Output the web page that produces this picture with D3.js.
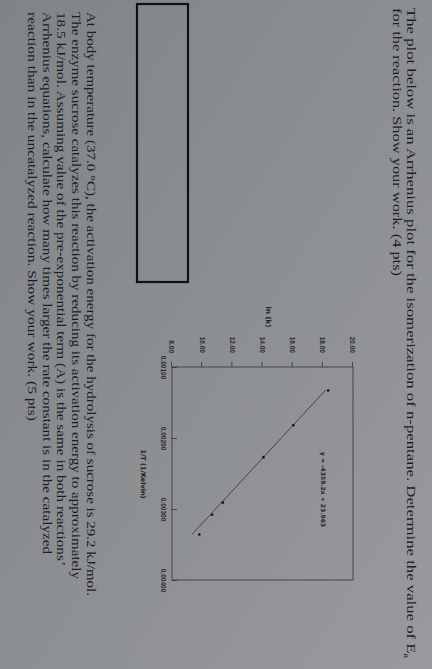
<!DOCTYPE html>
<html lang="en">
<head>
<meta charset="UTF-8">
<title>Arrhenius plot</title>
<script src="https://cdnjs.cloudflare.com/ajax/libs/d3/7.8.5/d3.min.js"></script>
<style>
    body {margin: 0; background: #8b8d90;}
    svg {display: block;}
</style>
</head>
<body>
<svg id="page" width="432" height="669"></svg>
<script>
    // values
    const invT = [0.00133, 0.00182, 0.00227, 0.00291, 0.00308, 0.00336];
    const lnK = [18.35, 16.04, 14.06, 11.37, 10.66, 9.81];
    const yTicks = [8, 10, 12, 14, 16, 18, 20];
    const xTicks = [0.001, 0.002, 0.003, 0.004];
    const slope = -4359.2, intercept = 23.963;

    const topText = [
        "The plot below is an Arrhenius plot for the isomerization of n-pentane. Determine the value of E",
        "for the reaction. Show your work. (4 pts)"
    ];
    const topLen = [650, 268];
    const bottomText = [
        "At body temperature (37.0 °C), the activation energy for the hydrolysis of sucrose is 29.2 kJ/mol.",
        "The enzyme sucrose catalyzes this reaction by reducing its activation energy to approximately",
        "18.5 kJ/mol. Assuming value of the pre-exponential term (A) is the same in both reactions’",
        "Arrhenius equations, calculate how many times larger the rate constant is in the catalyzed",
        "reaction than in the uncatalyzed reaction. Show your work. (5 pts)"
    ];
    const bottomLen = [584, 567, 554, 542, 409];

    const svg = d3.select("#page");
    const grad = svg.append("defs").append("linearGradient").attr("id", "bg")
        .attr("x1", 0).attr("y1", 0).attr("x2", 1).attr("y2", 1);
    grad.append("stop").attr("offset", 0).attr("stop-color", "#818487");
    grad.append("stop").attr("offset", 1).attr("stop-color", "#989a9d");
    svg.append("rect").attr("width", 432).attr("height", 669).attr("fill", "url(#bg)");

    // the photo is taken sideways: draw the page upright (669 x 432) and turn it
    const page = svg.append("g").attr("transform", "translate(432,0) rotate(90)");

    const serif = "'Liberation Serif', 'DejaVu Serif', serif";
    const t1 = page.append("g").attr("font-family", serif).attr("font-size", 13.5).attr("fill", "#1c1d20");
    topText.forEach((s, i) => {
        const t = t1.append("text").attr("x", 8).attr("y", 25 + i * 14)
            .attr("textLength", topLen[i]).attr("lengthAdjust", "spacingAndGlyphs").text(s);
        if (i === 0) t.append("tspan").attr("font-size", 8).attr("dy", 3).text("a");
    });
    const t2 = page.append("g").attr("font-family", serif).attr("font-size", 13.5).attr("fill", "#1c1d20");
    bottomText.forEach((s, i) => t2.append("text").attr("x", 12).attr("y", 345 + i * 14.8)
        .attr("textLength", bottomLen[i]).attr("lengthAdjust", "spacingAndGlyphs").text(s));

    // answer box
    page.append("rect").attr("x", 4).attr("y", 244).attr("width", 278).attr("height", 51)
        .attr("fill", "none").attr("stroke", "#111").attr("stroke-width", 2.2);

    // chart
    const x = d3.scaleLinear().domain([0.001, 0.004]).range([367, 580]);
    const y = d3.scaleLinear().domain([8, 20]).range([260, 79]);
    const g = page.append("g").attr("font-family", "'DejaVu Sans', sans-serif").attr("fill", "#222");

    g.append("rect").attr("x", x(0.001)).attr("y", y(20)).attr("width", x(0.004) - x(0.001))
        .attr("height", y(8) - y(20)).attr("fill", "none").attr("stroke", "#333").attr("stroke-width", 0.8);

    const yAxis = g.append("g").attr("transform", `translate(${x(0.001)},0)`)
        .call(d3.axisLeft(y).tickValues(yTicks).tickFormat(d3.format(".2f")).tickSize(5));
    const xAxis = g.append("g").attr("transform", `translate(0,${y(8)})`)
        .call(d3.axisBottom(x).tickValues(xTicks).tickFormat(d3.format(".5f")).tickSize(0));
    [yAxis, xAxis].forEach(a => {
        a.select(".domain").remove();
        a.selectAll("line").attr("stroke", "#333").attr("stroke-width", 0.8);
        a.selectAll("text").attr("font-size", 6.5).attr("font-weight", "bold").attr("fill", "#2a2a2a");
    });
    xAxis.selectAll(".tick line").attr("y2", -5);
    xAxis.selectAll("text").attr("dy", "1.3em");
    yAxis.selectAll("text").attr("x", -14).attr("dy", "0.32em");

    g.append("text").attr("x", 317).attr("y", 166).attr("text-anchor", "middle")
        .attr("font-size", 7).attr("font-weight", "bold").text("ln (k)");
    g.append("text").attr("x", 474).attr("y", 291).attr("text-anchor", "middle")
        .attr("font-size", 6.5).attr("font-weight", "bold").text("1/T (1/Kelvin)");
    g.append("text").attr("x", 452).attr("y", 111)
        .attr("font-size", 6).attr("font-weight", "bold").text("y = -4359.2x + 23.963");

    const x0 = invT[0], x1 = invT[invT.length - 1];
    g.append("line").attr("x1", x(x0)).attr("y1", y(slope * x0 + intercept))
        .attr("x2", x(x1)).attr("y2", y(slope * x1 + intercept))
        .attr("stroke", "#222").attr("stroke-width", 0.7);
    g.selectAll("circle.pt").data(invT).join("circle").attr("class", "pt")
        .attr("cx", d => x(d)).attr("cy", (d, i) => y(lnK[i])).attr("r", 1.3).attr("fill", "#111");
</script>
</body>
</html>
